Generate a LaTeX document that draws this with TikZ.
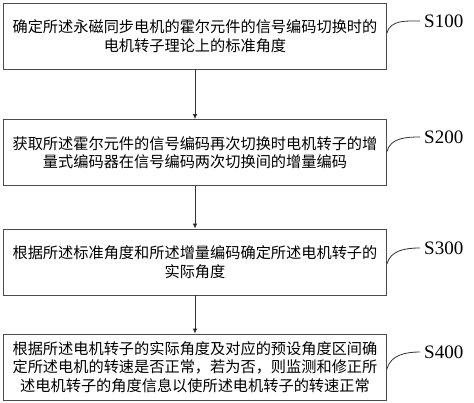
\documentclass[tikz,border=0pt]{standalone}
\usepackage{fontspec}
\setmainfont{Liberation Serif}
\newfontfamily\cjk{Noto Sans CJK SC}
\usetikzlibrary{arrows.meta}

\begin{document}
\begin{tikzpicture}[
  stepbox/.style={draw=black!70,line width=0.8pt,minimum width=383pt,minimum height=66pt,
    align=center,inner sep=0pt,font=\cjk\fontsize{15.2pt}{18.5pt}\selectfont},
  steplabel/.style={anchor=west,inner sep=4pt,font=\fontsize{19pt}{19pt}\selectfont},
  flow/.style={-{Latex[length=5pt,width=4.5pt]},draw=black!80,line width=0.8pt},
  tick/.style={draw=black!80,line width=0.8pt}
]
\useasboundingbox (0,0) rectangle (474pt,-403pt);

\node[stepbox] (s100) at (195pt,-36pt) {确定所述永磁同步电机的霍尔元件的信号编码切换时的\\电机转子理论上的标准角度};
\node[stepbox] (s200) at (195pt,-152.5pt) {获取所述霍尔元件的信号编码再次切换时电机转子的增\\量式编码器在信号编码两次切换间的增量编码};
\node[stepbox] (s300) at (195pt,-262pt) {根据所述标准角度和所述增量编码确定所述电机转子的\\实际角度};
\node[stepbox] (s400) at (195pt,-367pt) {根据所述电机转子的实际角度及对应的预设角度区间确\\定所述电机的转速是否正常，若为否，则监测和修正所\\述电机转子的角度信息以使所述电机转子的转速正常};

\node[steplabel] (l100) at (420pt,-21pt) {S100};
\node[steplabel] (l200) at (420pt,-137pt) {S200};
\node[steplabel] (l300) at (420pt,-248pt) {S300};
\node[steplabel] (l400) at (420pt,-352pt) {S400};

\path[flow]
(s100) edge (s200)
(s200) edge (s300)
(s300) edge (s400);

\draw[tick] ([yshift=3pt]s100.east) to[out=75,in=180] (l100.west);
\draw[tick] ([yshift=1pt]s200.east) to[out=75,in=180] (l200.west);
\draw[tick] ([yshift=-2pt]s300.east) to[out=75,in=180] (l300.west);
\draw[tick] ([yshift=-2pt]s400.east) to[out=75,in=180] (l400.west);
\end{tikzpicture}
\end{document}
